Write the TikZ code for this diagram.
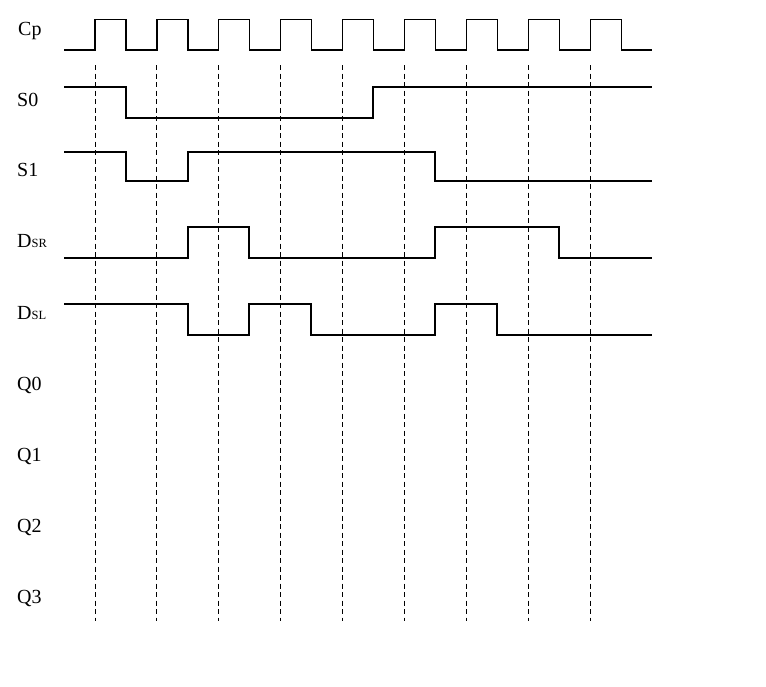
\documentclass[tikz,border=0pt]{standalone}
\usepackage{fontspec}
\setmainfont{Liberation Serif}

\begin{document}
\begin{tikzpicture}[
      x=1pt, y=-1pt,
      wave/.style={line width=1.3pt, line join=miter},
      grid/.style={line width=1pt, dash pattern=on 5pt off 3.5pt},
      lbl/.style={
        anchor=base west, inner sep=0pt,
        font=\fontsize{20}{22}\selectfont
      }
    ]
      \useasboundingbox (0,0) rectangle (766,686);

      % signal names
      \node[lbl] (cp) at (18,35) {Cp};
      \node[lbl] (s0) at (17,106) {S0};
      \node[lbl] (s1) at (17,176) {S1};
      \node[lbl] (dsr) at (17,247) {D{\fontsize{12.5}{13}\selectfont SR}};
      \node[lbl] (dsl) at (17,319) {D{\fontsize{12.5}{13}\selectfont SL}};
      \foreach \n/\y in {0/390,1/461,2/532,3/603} {
        \node[lbl] (q\n) at (17,\y) {Q\n};
      }

      % rising edges of the clock
      \foreach \i [evaluate=\i as \x using 95+61.9*\i] in {0,...,8} {
        \draw[grid] (\x,65) -- (\x,621);
      }

      \draw[wave] (64,50)
        \foreach \i [evaluate=\i as \x using 95+61.9*\i] in {0,...,8} {
          -- (\x,50) -- (\x,19.5) -- ({\x+31},19.5) -- ({\x+31},50)
        } -- (652,50);

      \draw[wave] (64,87) -- (126,87) -- (126,118) -- (373,118)
        -- (373,87) -- (652,87);
      \draw[wave] (64,152) -- (126,152) -- (126,181) -- (188,181)
        -- (188,152) -- (435,152) -- (435,181) -- (652,181);
      \draw[wave] (64,258) -- (188,258) -- (188,227) -- (249,227)
        -- (249,258) -- (435,258) -- (435,227) -- (559,227)
        -- (559,258) -- (652,258);
      \draw[wave] (64,304) -- (188,304) -- (188,335) -- (249,335)
        -- (249,304) -- (311,304) -- (311,335) -- (435,335)
        -- (435,304) -- (497,304) -- (497,335) -- (652,335);
    \end{tikzpicture}
\end{document}
